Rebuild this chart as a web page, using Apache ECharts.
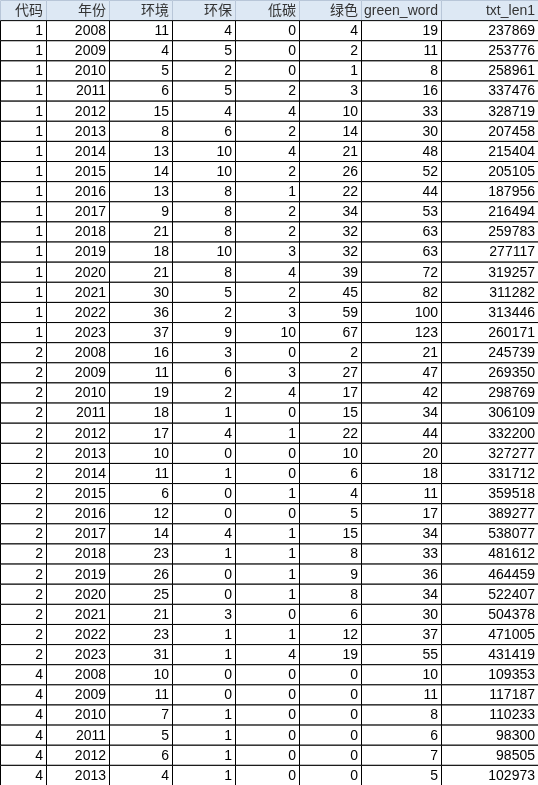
<!DOCTYPE html>
<html><head><meta charset="utf-8">
<script src="https://cdn.jsdelivr.net/npm/echarts@6/dist/echarts.min.js"></script>
<style>html,body{margin:0;padding:0;background:#fff}#c{width:538px;height:785px}</style>
</head><body><div id="c"></div>
<script>
const headers = ['代码','年份','环境','环保','低碳','绿色','green_word','txt_len1'];
const code = [1,1,1,1,1,1,1,1,1,1,1,1,1,1,1,1,2,2,2,2,2,2,2,2,2,2,2,2,2,2,2,2,4,4,4,4,4,4];
const year = [2008,2009,2010,2011,2012,2013,2014,2015,2016,2017,2018,2019,2020,2021,2022,2023,2008,2009,2010,2011,2012,2013,2014,2015,2016,2017,2018,2019,2020,2021,2022,2023,2008,2009,2010,2011,2012,2013];
const huanjing = [11,4,5,6,15,8,13,14,13,9,21,18,21,30,36,37,16,11,19,18,17,10,11,6,12,14,23,26,25,21,23,31,10,11,7,5,6,4];
const huanbao = [4,5,2,5,4,6,10,10,8,8,8,10,8,5,2,9,3,6,2,1,4,0,1,0,0,4,1,0,0,3,1,1,0,0,1,1,1,1];
const ditan = [0,0,0,2,4,2,4,2,1,2,2,3,4,2,3,10,0,3,4,0,1,0,0,1,0,1,1,1,1,0,1,4,0,0,0,0,0,0];
const lvse = [4,2,1,3,10,14,21,26,22,34,32,32,39,45,59,67,2,27,17,15,22,10,6,4,5,15,8,9,8,6,12,19,0,0,0,0,0,0];
const greenWord = [19,11,8,16,33,30,48,52,44,53,63,63,72,82,100,123,21,47,42,34,44,20,18,11,17,34,33,36,34,30,37,55,10,11,8,6,7,5];
const txtLen = [237869,253776,258961,337476,328719,207458,215404,205105,187956,216494,259783,277117,319257,311282,313446,260171,245739,269350,298769,306109,332200,327277,331712,359518,389277,538077,481612,464459,522407,504378,471005,431419,109353,117187,110233,98300,98505,102973];

const colEdges = [0,46,109,172,235,299,361,441,538];
const columns = [code,year,huanjing,huanbao,ditan,lvse,greenWord,txtLen];
const cells = [];
headers.forEach((h,c)=>cells.push([c,0,h]));
for (let r=0;r<code.length;r++) columns.forEach((col,c)=>cells.push([c,r+1,String(col[r])]));

const chart = echarts.init(document.getElementById('c'));
chart.setOption({
  animation:false,
  grid:{left:0,right:0,top:0,bottom:0},
  xAxis:{type:'value',min:0,max:538,show:false},
  yAxis:{type:'value',min:0,max:39,inverse:true,show:false},
  series:[{
    type:'custom',
    data:cells,
    renderItem:(params,api)=>{
      const c=api.value(0), r=api.value(1), t=cells[params.dataIndex][2];
      const p0=api.coord([colEdges[c],r]), p1=api.coord([colEdges[c+1],r+1]);
      const head=r===0;
      return {type:'group',children:[
        {type:'rect',shape:{x:p0[0]+0.5,y:p0[1]+0.5,width:p1[0]-p0[0],height:p1[1]-p0[1]},
         style:{fill:head?'#dde8f4':'#fff',stroke:head?'#b8c6d8':'#000',lineWidth:1}},
        {type:'text',style:{text:t,x:p1[0]-3,y:(p0[1]+p1[1])/2+1,align:'right',verticalAlign:'middle',
          fill:head?'#333':'#000',font:'14px "Liberation Sans","Noto Sans CJK SC",sans-serif'}}
      ]};
    }
  }],
  graphic:[
    {type:'rect',shape:{x:0,y:777,width:53,height:8},style:{fill:'#e6e6e6'}},
    {type:'rect',shape:{x:53,y:777,width:62,height:8},style:{fill:'#fff'}},
    {type:'rect',shape:{x:115,y:777,width:423,height:8},style:{fill:'#e6e6e6'}}
  ]
});
</script></body></html>
